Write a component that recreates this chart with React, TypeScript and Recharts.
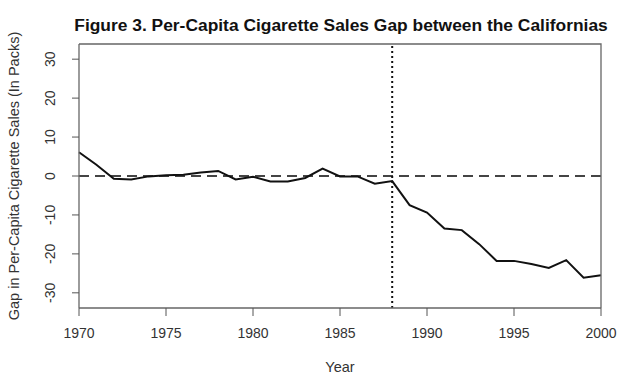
import { LineChart, Line, XAxis, YAxis, ReferenceLine, Label } from "recharts";

const years = [
    1970, 1971, 1972, 1973, 1974, 1975, 1976, 1977, 1978, 1979,
    1980, 1981, 1982, 1983, 1984, 1985, 1986, 1987, 1988, 1989,
    1990, 1991, 1992, 1993, 1994, 1995, 1996, 1997, 1998, 1999, 2000
];

const gap = [
    6.1, 2.9, -0.7, -0.9, -0.1, 0.2, 0.35, 0.9, 1.3, -0.9,
    -0.2, -1.4, -1.4, -0.5, 1.9, -0.1, -0.1, -2.0, -1.3, -7.5,
    -9.4, -13.5, -13.9, -17.5, -21.8, -21.8, -22.6, -23.6, -21.6, -26.1, -25.5
];

const xTicks = [1970, 1975, 1980, 1985, 1990, 1995, 2000];
const yTicks = [-30, -20, -10, 0, 10, 20, 30];

const treatmentYear = 1988;
const xRange = [1970, 2000];
const yRange = [-33.9, 33.9];

const data = years.map((year, i) => ({ year, gap: gap[i] }));

const font = "'Liberation Sans', Arial, sans-serif";
const frame = { stroke: "#666", strokeWidth: 1.3 };
const plotTop = 44;

// top and right sides of the box, from the x axis viewBox
const FrameLabel = ({ viewBox }: any) => {
    if (!viewBox) return null;
    const left = viewBox.x;
    const right = viewBox.x + viewBox.width;
    const bottom = viewBox.y;
    return (
        <path
            d={`M${left},${plotTop}H${right}V${bottom}`}
            fill="none"
            stroke="#666"
            strokeWidth={1.3}
        />
    );
};

const YTick = ({ x, y, payload }: any) => (
    <text
        x={x - 19}
        y={y}
        transform={`rotate(-90 ${x - 19} ${y})`}
        textAnchor="middle"
        dominantBaseline="middle"
        fontSize={14}
        fill="#333"
        fontFamily={font}
    >
        {payload.value}
    </text>
);

export default function App() {
    return (
        <div style={{ position: "absolute", left: 0, top: 0, background: "#fff" }}>
            <LineChart
                width={640}
                height={392}
                data={data}
                margin={{ top: plotTop, right: 39, left: 0, bottom: 0 }}
            >
                <text
                    x={341}
                    y={31}
                    textAnchor="middle"
                    fontSize={17.4}
                    fontWeight="bold"
                    fontFamily={font}
                    fill="#111"
                >
                    Figure 3. Per-Capita Cigarette Sales Gap between the Californias
                </text>
                <XAxis
                    dataKey="year"
                    type="number"
                    domain={xRange}
                    ticks={xTicks}
                    axisLine={frame}
                    tickLine={{ stroke: "#555" }}
                    tickSize={8}
                    tickMargin={12}
                    height={84}
                    tick={{ fontSize: 14, fill: "#333", fontFamily: font }}
                >
                    <Label
                        value="Year"
                        position="insideTop"
                        offset={54}
                        style={{ fontSize: 14.5, fill: "#333", fontFamily: font }}
                    />
                    <Label content={<FrameLabel />} />
                </XAxis>
                <YAxis
                    type="number"
                    domain={yRange}
                    ticks={yTicks}
                    axisLine={frame}
                    tickLine={{ stroke: "#555" }}
                    tickSize={7}
                    width={79}
                    tick={<YTick />}
                >
                    <Label
                        value="Gap in Per-Capita Cigarette Sales (In Packs)"
                        angle={-90}
                        position="insideLeft"
                        offset={14}
                        style={{ textAnchor: "middle", fontSize: 14.5, fill: "#333", fontFamily: font }}
                    />
                </YAxis>
                <ReferenceLine y={0} stroke="#444" strokeWidth={2} strokeDasharray="10 6" />
                <ReferenceLine x={treatmentYear} stroke="#111" strokeWidth={2} strokeDasharray="2 3" />
                <Line
                    type="linear"
                    dataKey="gap"
                    stroke="#111"
                    strokeWidth={2}
                    dot={false}
                    isAnimationActive={false}
                />
            </LineChart>
        </div>
    );
}
